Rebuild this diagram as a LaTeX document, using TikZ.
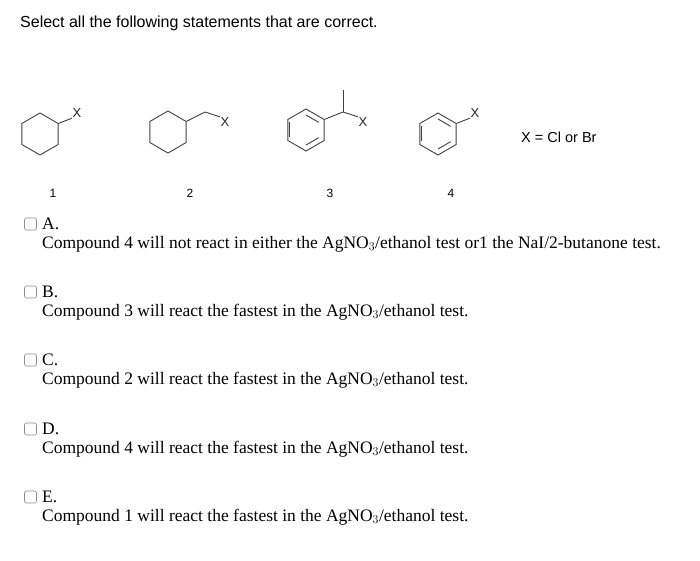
\documentclass[tikz,border=0pt]{standalone}
\usepackage{fontspec}
\setmainfont{Liberation Serif}
\newfontfamily\hv{Liberation Sans}
\newcommand{\hexring}[2]{\draw[bond] (#1,#2) -- ++(30:21) -- ++(90:21) -- ++(150:21) -- ++(-150:21) -- ++(-90:21) -- cycle;}
\begin{document}
\begin{tikzpicture}[x=1pt,y=-1pt,
  bond/.style={line width=0.9pt,color=black!75},
  atom/.style={font=\hv\fontsize{13}{14}\selectfont,inner sep=0.5pt,text=black!85},
  lab/.style={font=\hv\fontsize{12}{13}\selectfont,inner sep=0pt},
  chk/.style={draw=black!45,rounded corners=2pt,minimum width=12pt,minimum height=12pt,inner sep=0pt,line width=0.6pt},
  opt/.style={font=\fontsize{17.5}{20}\selectfont,anchor=base west,inner sep=0pt}]
\useasboundingbox (0,0) rectangle (700,560);
\node[font=\hv\fontsize{16}{19}\selectfont,anchor=base west,inner sep=0pt] (title) at (20,27) {Select all the following statements that are correct.};
% ring 1
\hexring{40}{113}
\node[atom] (x1) at (77,113) {X};
\draw[bond] (58.2,123.5) -- (x1.south west);
% ring 2
\hexring{168}{111}
\node[atom] (x2) at (225,122) {X};
\coordinate (c2) at (205,112);
\draw[bond] (186.2,121.5) -- (c2) -- (x2.north west);
% ring 3
\hexring{306}{109}
\draw[bond] (289.5,122) -- (289.5,137);
\draw[bond] (306,145) -- (318.7,137.7);
\draw[bond] (306,115) -- (318.7,122.3);
\coordinate (c3) at (343,112);
\coordinate (m3) at (343,90);
\node[atom] (x3) at (363,122) {X};
\draw[bond] (324.2,119.5) -- (c3) -- (x3.north west);
\draw[bond] (c3) -- (m3);
% ring 4
\hexring{438}{113}
\draw[bond] (421.5,126) -- (421.5,141);
\draw[bond] (438,149) -- (450.7,141.7);
\draw[bond] (438,119) -- (450.7,126.3);
\node[atom] (x4) at (475,113) {X};
\draw[bond] (456.2,123.5) -- (x4.south west);
\node[font=\hv\fontsize{14.5}{16}\selectfont,inner sep=0pt,anchor=west] (xeq) at (521,137) {X = Cl or Br};
\node[lab] (l1) at (53,193) {1};
\node[lab] (l2) at (190,193) {2};
\node[lab] (l3) at (330,193) {3};
\node[lab] (l4) at (451,193) {4};
% options
\node[chk] (ca) at (30.5,224) {};
\node[opt] (ta) at (42,229) {A.};
\node[opt] (sa) at (42,248) {Compound 4 will not react in either the AgNO$_3$/ethanol test or1 the NaI/2-butanone test.};
\node[chk] (cb) at (30.5,292) {};
\node[opt] (tb) at (42,297) {B.};
\node[opt] (sb) at (42,316) {Compound 3 will react the fastest in the AgNO$_3$/ethanol test.};
\node[chk] (cc) at (30.5,360) {};
\node[opt] (tc) at (42,365) {C.};
\node[opt] (sc) at (42,384) {Compound 2 will react the fastest in the AgNO$_3$/ethanol test.};
\node[chk] (cd) at (30.5,429) {};
\node[opt] (td) at (42,434) {D.};
\node[opt] (sd) at (42,453) {Compound 4 will react the fastest in the AgNO$_3$/ethanol test.};
\node[chk] (ce) at (30.5,497) {};
\node[opt] (te) at (42,502) {E.};
\node[opt] (se) at (42,521) {Compound 1 will react the fastest in the AgNO$_3$/ethanol test.};
\end{tikzpicture}
\end{document}
